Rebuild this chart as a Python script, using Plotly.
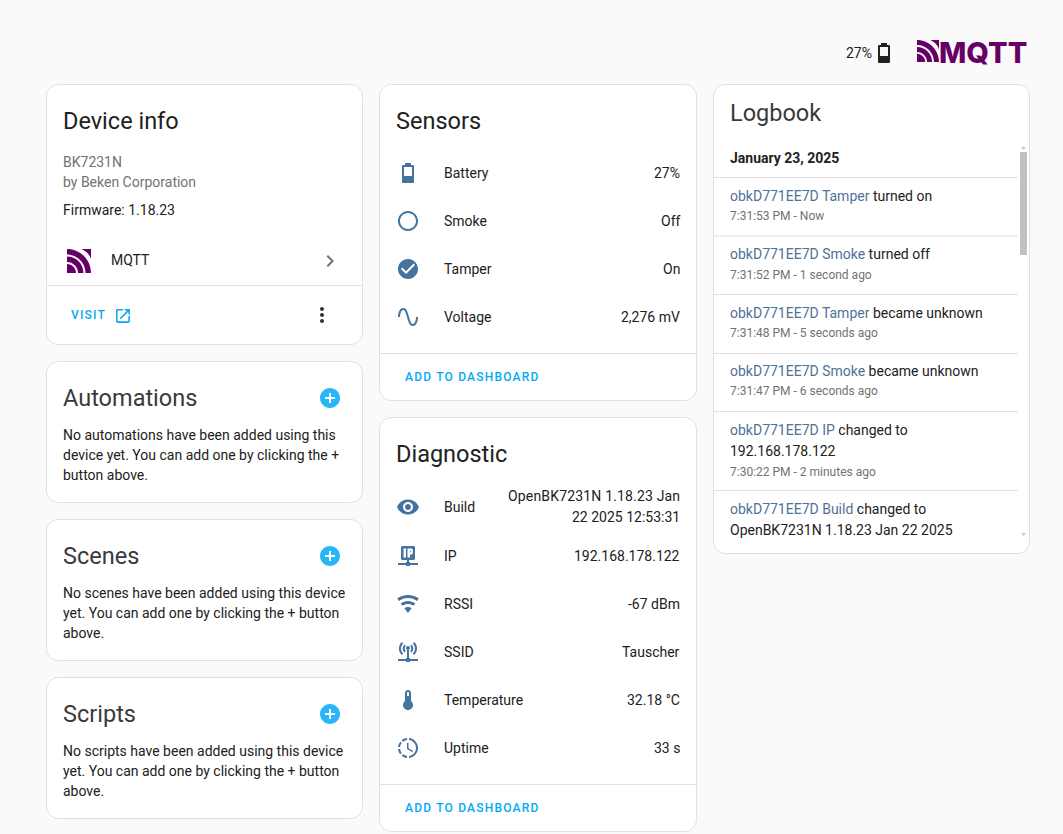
import re
import plotly.graph_objects as go

# device page contents
device_model = "BK7231N"
device_maker = "by Beken Corporation"
device_firmware = "Firmware: 1.18.23"
battery_header = "27%"

sensor_names = ["Battery", "Smoke", "Tamper", "Voltage"]
sensor_values = ["27%", "Off", "On", "2,276 mV"]

diagnostic_names = ["Build", "IP", "RSSI", "SSID", "Temperature", "Uptime"]
diagnostic_values = [
    ["OpenBK7231N 1.18.23 Jan", "22 2025 12:53:31"],
    ["192.168.178.122"],
    ["-67 dBm"],
    ["Tauscher"],
    ["32.18 °C"],
    ["33 s"],
]

empty_titles = ["Automations", "Scenes", "Scripts"]
empty_lines = [
    ["No automations have been added using this", "device yet. You can add one by clicking the +", "button above."],
    ["No scenes have been added using this device", "yet. You can add one by clicking the + button", "above."],
    ["No scripts have been added using this device", "yet. You can add one by clicking the + button", "above."],
]

log_date = "January 23, 2025"
log_entities = [
    "obkD771EE7D Tamper",
    "obkD771EE7D Smoke",
    "obkD771EE7D Tamper",
    "obkD771EE7D Smoke",
    "obkD771EE7D IP",
    "obkD771EE7D Build",
]
log_messages = ["turned on", "turned off", "became unknown", "became unknown", "changed to", "changed to"]
log_second_lines = [None, None, None, None, "192.168.178.122", "OpenBK7231N 1.18.23 Jan 22 2025"]
log_times = [
    "7:31:53 PM - Now",
    "7:31:52 PM - 1 second ago",
    "7:31:48 PM - 5 seconds ago",
    "7:31:47 PM - 6 seconds ago",
    "7:30:22 PM - 2 minutes ago",
    None,
]

FONT = "Roboto, sans-serif"
DARK = "#212121"
GREY = "#727272"
ICON = "#44739e"
BLUE = "#03a9f4"
PLUS = "#29b6f6"
PURPLE = "#660066"
LINE = "#e0e0e0"
TITLE_SIZE = 23.5


def circ(cx, cy, r):
    k = 0.5523 * r
    return (
        f"M{cx - r} {cy}C{cx - r} {cy - k} {cx - k} {cy - r} {cx} {cy - r}"
        f"C{cx + k} {cy - r} {cx + r} {cy - k} {cx + r} {cy}"
        f"C{cx + r} {cy + k} {cx + k} {cy + r} {cx} {cy + r}"
        f"C{cx - k} {cy + r} {cx - r} {cy + k} {cx - r} {cy}Z"
    )


def quarter(r1, r2):
    # band around the lower left corner of a 24 box
    k1, k2 = 0.5523 * r1, 0.5523 * r2
    y0 = 24
    return (
        f"M0 {y0 - r2}C{k2} {y0 - r2} {r2} {y0 - k2} {r2} {y0}H{r1}"
        f"C{r1} {y0 - k1} {k1} {y0 - r1} 0 {y0 - r1}Z"
    )


BATTERY = (
    "M16 15H8V6H16ZM16.67 4H15V2H9V4H7.33C6.6 4 6 4.6 6 5.33V20.67C6 21.4 6.6 22 7.33 22H16.67"
    "C17.41 22 18 21.41 18 20.67V5.33C18 4.6 17.4 4 16.67 4Z"
)
RING = circ(12, 12, 10) + circ(12, 12, 8)
CHECK = circ(12, 12, 10) + "M10 17L5 12L6.41 10.59L10 14.17L17.59 6.58L19 8L10 17Z"
SINE = (
    "M16.5 21C13.5 21 12.31 16.76 11.05 12.28C10.14 9.04 9 5 7.5 5C4.11 5 4 11.93 4 12H2C2 11.63 2.06 3 7.5 3"
    "C10.5 3 11.71 7.25 12.97 11.74C13.83 14.8 15 19 16.5 19C19.94 19 20.03 12.07 20.03 12H22.03"
    "C22.03 12.37 21.97 21 16.5 21Z"
)
EYE = (
    "M12 4.5C7 4.5 2.73 7.61 1 12C2.73 16.39 7 19.5 12 19.5C17 19.5 21.27 16.39 23 12C21.27 7.61 17 4.5 12 4.5Z"
    + circ(12, 12, 5) + circ(12, 12, 3)
)
BASE = "M10 18H14V19H22V21H14V22H10V21H2V19H10V18Z"
IP_NET = (
    "M6.5 2H17.5C18.3 2 19 2.7 19 3.5V14.5C19 15.3 18.3 16 17.5 16H13V18H11V16H6.5C5.7 16 5 15.3 5 14.5V3.5"
    "C5 2.7 5.7 2 6.5 2Z"
    "M7.5 4.5H10V13.5H7.5ZM11.5 4.5H15.5C16.1 4.5 16.8 5.2 16.8 5.8V9.2C16.8 9.8 16.1 10.5 15.5 10.5H14V13.5H11.5Z"
    "M14 6.7H14.8V8.3H14Z" + BASE
)
WIFI = (
    "M12 21L15.6 16.2C14.6 15.45 13.35 15 12 15C10.65 15 9.4 15.45 8.4 16.2L12 21Z"
    "M12 3C7.95 3 4.21 4.34 1.2 6.6L3 9C5.5 7.12 8.62 6 12 6C15.38 6 18.5 7.12 21 9L22.8 6.6C19.79 4.34 16.05 3 12 3Z"
    "M12 9C9.3 9 6.81 9.89 4.8 11.4L6.6 13.8C8.1 12.67 9.97 12 12 12C14.03 12 15.9 12.67 17.4 13.8L19.2 11.4"
    "C17.19 9.89 14.7 9 12 9Z"
)
AP_NET = (
    circ(12, 8, 2) + "M11 10H13V18H11Z" + BASE +
    "M8.5 4.5C6 7 6 10 8.5 12.5L9.9 11.1C8.3 9.5 8.3 7 9.9 5.9Z"
    "M15.5 4.5C18 7 18 10 15.5 12.5L14.1 11.1C15.7 9.5 15.7 7 14.1 5.9Z"
    "M5.8 2C2 5.8 2 11.2 5.8 15L7.2 13.6C4.3 10.6 4.3 6.4 7.2 3.4Z"
    "M18.2 2C22 5.8 22 11.2 18.2 15L16.8 13.6C19.7 10.6 19.7 6.4 16.8 3.4Z"
)
THERMO = (
    "M15 13V5C15 3.3 13.7 2 12 2C10.3 2 9 3.3 9 5V13C7.8 13.9 7 15.4 7 17C7 19.8 9.2 22 12 22C14.8 22 17 19.8 17 17"
    "C17 15.4 16.2 13.9 15 13Z"
    "M12 4C12.6 4 13 4.4 13 5V8H11V5C11 4.4 11.4 4 12 4Z"
)
CLOCK = (
    "M13 2.03V4.05C17.39 4.59 20.5 8.58 19.96 12.97C19.5 16.61 16.64 19.5 13 19.93V21.93"
    "C18.5 21.38 22.5 16.5 21.95 11C21.5 6.25 17.73 2.5 13 2.03Z"
    "M11 2.06C9.05 2.25 7.19 3 5.67 4.26L7.1 5.74C8.22 4.84 9.57 4.26 11 4.06V2.06Z"
    "M4.26 5.67C3 7.19 2.25 9.04 2.05 11H4.05C4.24 9.58 4.8 8.23 5.69 7.1L4.26 5.67Z"
    "M2.06 13C2.26 14.96 3.03 16.81 4.27 18.33L5.69 16.9C4.81 15.77 4.24 14.42 4.06 13H2.06Z"
    "M7.1 18.37L5.67 19.74C7.18 21 9.04 21.79 11 22V20C9.58 19.82 8.23 19.25 7.1 18.37Z"
    "M12.5 7V12.25L17 14.92L16.25 16.15L11 13V7H12.5Z"
)
CHEVRON = "M8.59 16.58L13.17 12L8.59 7.41L10 6L16 12L10 18L8.59 16.58Z"
DOTS = circ(12, 6, 2) + circ(12, 12, 2) + circ(12, 18, 2)
OPEN_NEW = (
    "M14 3V5H17.59L7.76 14.83L9.17 16.24L19 6.41V10H21V3Z"
    "M19 19H5V5H12V3H5C3.89 3 3 3.9 3 5V19C3 20.1 3.9 21 5 21H19C20.1 21 21 20.1 21 19V12H19V19Z"
)
PLUS_ICON = circ(12, 12, 10) + "M17 13H13V17H11V13H7V11H11V7H13V11H17Z"
MQTT_ICON = (
    quarter(0.01, 9) + quarter(11, 16.5) + quarter(18.5, 24)
    + "M14.5 0H24V10C22.4 5.4 19.4 2.2 14.5 0Z"
)

sensor_icons = [BATTERY, RING, CHECK, SINE]
diagnostic_icons = [EYE, IP_NET, WIFI, AP_NET, THERMO, CLOCK]

fig = go.Figure()


def icon(path, x, y, size=24, color=ICON):
    s = size / 24
    out = []
    for cmd, args in re.findall(r"([MLHVCZ])([^MLHVCZ]*)", path):
        nums = [float(n) for n in args.split()]
        if cmd == "H":
            vals = [x + n * s for n in nums]
        elif cmd == "V":
            vals = [y + n * s for n in nums]
        else:
            vals = [x + n * s if i % 2 == 0 else y + n * s for i, n in enumerate(nums)]
        out.append(cmd + " ".join(f"{v:.2f}" for v in vals))
    fig.add_shape(type="path", path="".join(out), fillcolor=color, line_width=0, layer="above")


def card(x0, y0, x1, y1, r=12):
    k = r * 0.4477
    fig.add_shape(
        type="path",
        path=(
            f"M{x0 + r} {y0}H{x1 - r}C{x1 - k} {y0} {x1} {y0 + k} {x1} {y0 + r}V{y1 - r}"
            f"C{x1} {y1 - k} {x1 - k} {y1} {x1 - r} {y1}H{x0 + r}C{x0 + k} {y1} {x0} {y1 - k} {x0} {y1 - r}V{y0 + r}"
            f"C{x0} {y0 + k} {x0 + k} {y0} {x0 + r} {y0}Z"
        ),
        fillcolor="white",
        line=dict(color=LINE, width=1),
    )


def rule(x0, x1, y):
    fig.add_shape(type="line", x0=x0, x1=x1, y0=y, y1=y, line=dict(color=LINE, width=1))


def text(x, y, s, size=14, color=DARK, anchor="left", weight=400, family=FONT):
    fig.add_annotation(
        x=x, y=y, text=s, showarrow=False, xanchor=anchor, yanchor="middle", borderpad=0, borderwidth=0,
        font=dict(family=family, size=size, color=color, weight=weight),
    )


def spaced(x, y, s):
    text(x, y, f'<span style="letter-spacing:1.2px">{s}</span>', size=12, color=BLUE, weight=500)


# header
text(846, 52.5, battery_header)
icon(BATTERY, 872, 41, color=DARK)
icon(MQTT_ICON, 917, 40, size=22, color=PURPLE)
text(939, 52, "MQTT", size=29, color=PURPLE, weight=800, family="Inter, sans-serif")

# left column
card(46.5, 84.5, 362.5, 344.5)
text(63, 121, "Device info", size=TITLE_SIZE)
text(63, 162, device_model, color=GREY)
text(63, 182, device_maker, color=GREY)
text(63, 210, device_firmware)
icon(MQTT_ICON, 67, 249, color=PURPLE)
text(111, 260, "MQTT")
icon(CHEVRON, 318, 249, color=GREY)
rule(47, 362, 285.5)
spaced(71, 314.5, "VISIT")
icon(OPEN_NEW, 113.7, 306.7, size=18.5, color=BLUE)
icon(DOTS, 310, 303, color="#333333")

for i, (title, lines) in enumerate(zip(empty_titles, empty_lines)):
    top = 361 + 158 * i
    card(46.5, top + 0.5, 362.5, top + 141.5)
    title_y = top + 37
    text(63, title_y, title, size=TITLE_SIZE, color="#3a3a3a")
    icon(PLUS_ICON, 318, title_y - 12, color=PLUS)
    for j, line in enumerate(lines):
        text(63, top + 74 + 20 * j, line)

# sensors
card(379.5, 84.5, 696.5, 400.5)
text(396, 121, "Sensors", size=TITLE_SIZE)
for i, (name, value) in enumerate(zip(sensor_names, sensor_values)):
    row_y = 173 + 48 * i
    icon(sensor_icons[i], 396, row_y - 12)
    text(444, row_y, name)
    text(680, row_y, value, anchor="right")
rule(380, 696, 353.5)
spaced(404.5, 376.5, "ADD TO DASHBOARD")

# diagnostic
card(379.5, 417.5, 696.5, 831.5)
text(396, 454, "Diagnostic", size=TITLE_SIZE)
diagnostic_rows = [507, 556, 604, 652, 700, 748]
for i, name in enumerate(diagnostic_names):
    row_y = diagnostic_rows[i]
    icon(diagnostic_icons[i], 396, row_y - 12)
    text(444, row_y, name)
    lines = diagnostic_values[i]
    if len(lines) == 2:
        text(680, row_y - 11, f'<span style="letter-spacing:0.17px">{lines[0]}</span>', anchor="right")
        text(680, row_y + 10, lines[1], anchor="right")
    else:
        text(680, row_y, lines[0], anchor="right")
rule(380, 696, 784.5)
spaced(404.5, 807.5, "ADD TO DASHBOARD")

# logbook
card(713.5, 84.5, 1029.5, 553.5)
text(730, 113, "Logbook", size=TITLE_SIZE, color="#3a3a3a")
text(730, 158, log_date, weight=700)
for y in [177.5, 236, 294.5, 353.5, 411.5, 490.5]:
    rule(714, 1018, y)
log_first = [196, 254, 313, 371, 430, 509]
log_sub = [216, 274.5, 333, 391, 472, None]
log_next = [None, None, None, None, 451, 530]
for i, entity in enumerate(log_entities):
    text(730, log_first[i], f'<span style="color:#4f7297">{entity}</span> {log_messages[i]}')
    if log_second_lines[i]:
        text(730, log_next[i], log_second_lines[i])
    if log_times[i]:
        text(730, log_sub[i], log_times[i], size=12, color=GREY)

# scrollbar of the logbook list
fig.add_shape(type="rect", x0=1020, x1=1027, y0=152, y1=255, fillcolor="#c1c1c1", line_width=0)
fig.add_shape(type="path", path="M1021 149H1026L1023.5 146Z", fillcolor="#c8c8c8", line_width=0)
fig.add_shape(type="path", path="M1021 533H1026L1023.5 536Z", fillcolor="#c8c8c8", line_width=0)

fig.update_xaxes(range=[0, 1063], visible=False, fixedrange=True)
fig.update_yaxes(range=[834, 0], visible=False, fixedrange=True)
fig.update_layout(
    width=1063,
    height=834,
    margin=dict(l=0, r=0, t=0, b=0),
    paper_bgcolor="#fafafa",
    plot_bgcolor="#fafafa",
    showlegend=False,
)
fig.write_html(
    "out.html",
    config={"displayModeBar": False},
    post_script="document.body.style.margin='0';document.body.style.overflow='hidden';",
)
